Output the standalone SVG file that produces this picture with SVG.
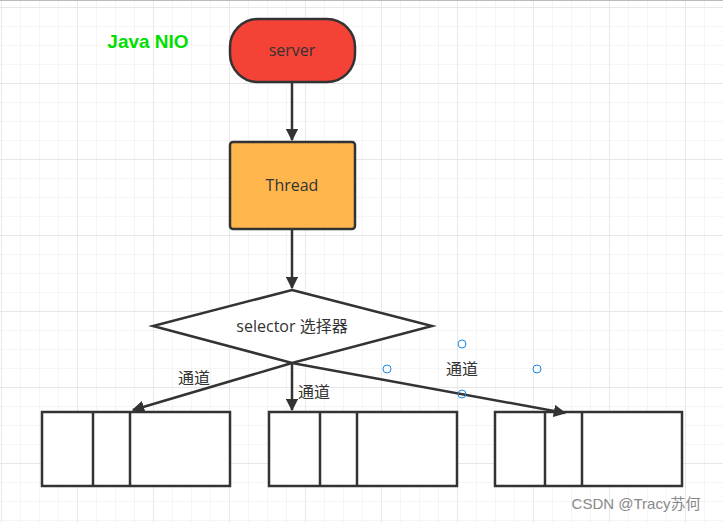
<svg xmlns="http://www.w3.org/2000/svg" width="723" height="523" viewBox="0 0 723 523">
<defs>
<pattern id="g" x="1" y="7" width="19" height="19" patternUnits="userSpaceOnUse"><path d="M0 0H19M0 0V19" stroke="#ececec" stroke-width="1" fill="none"/></pattern>
<pattern id="G" x="1" y="7" width="76" height="76" patternUnits="userSpaceOnUse"><path d="M0 0H76M0 0V76" stroke="#e2e2e2" stroke-width="1.3" fill="none"/></pattern>
<marker id="a" viewBox="0 0 10 10" refX="9" refY="5" markerWidth="5" markerHeight="5" orient="auto"><path d="M0 0L10 5L0 10z" fill="#333"/></marker>
</defs>
<style>
.s{stroke:#333;stroke-width:2.5}
.t{font-family:"Open Sans","Liberation Sans","Noto Sans CJK SC",sans-serif;font-size:16px;fill:#333;text-anchor:middle}
.c{fill:none;stroke:#1e88e5;stroke-width:1}
</style>
<rect width="723" height="523" fill="#fff"/>
<rect width="723" height="523" fill="url(#g)"/>
<rect width="723" height="523" fill="url(#G)"/>
<line x1="0" y1="0.5" x2="723" y2="0.5" stroke="#bbb"/>
<text x="148" y="48" font-family="'Liberation Sans',sans-serif" font-size="19" font-weight="bold" fill="#00e000" text-anchor="middle">Java NIO</text>
<g id="server"><rect x="230" y="19" width="125" height="63" rx="28" fill="#f44336" class="s"/><text class="t" x="292" y="56">server</text></g>
<g id="thread"><rect x="230" y="142" width="125" height="87" rx="3" fill="#ffb74d" class="s"/><text class="t" x="292" y="191">Thread</text></g>
<g id="selector"><polygon points="292,290 432,326 292,363 153,326" fill="#fff" class="s"/><text class="t" x="292" y="332">selector 选择器</text></g>
<g id="b1"><rect x="42" y="412" width="188" height="74" fill="#fff" class="s"/><line x1="93" y1="412" x2="93" y2="486" class="s"/><line x1="130" y1="412" x2="130" y2="486" class="s"/></g>
<g id="b2"><rect x="269" y="412" width="188" height="74" fill="#fff" class="s"/><line x1="320" y1="412" x2="320" y2="486" class="s"/><line x1="357" y1="412" x2="357" y2="486" class="s"/></g>
<g id="b3"><rect x="495" y="412" width="187" height="74" fill="#fff" class="s"/><line x1="545" y1="412" x2="545" y2="486" class="s"/><line x1="582" y1="412" x2="582" y2="486" class="s"/></g>
<g id="connectors" fill="none" class="s" marker-end="url(#a)">
<line x1="292" y1="83" x2="292" y2="140"/>
<line x1="292" y1="230" x2="292" y2="288"/>
<line x1="292" y1="363" x2="133" y2="410"/>
<line x1="292" y1="363" x2="292" y2="410"/>
<line x1="292" y1="363" x2="565" y2="413"/>
</g>
<g id="labels">
<text class="t" x="194" y="384">通道</text>
<text class="t" x="314" y="398">通道</text>
<text class="t" x="462" y="375">通道</text>
</g>
<circle class="c" cx="462" cy="344" r="4"/><circle class="c" cx="387" cy="369" r="4"/><circle class="c" cx="537" cy="369" r="4"/><circle class="c" cx="462" cy="394" r="4"/>
<text x="636" y="509" font-family="'Liberation Sans','Noto Sans CJK SC',sans-serif" font-size="15" fill="#888" text-anchor="middle">CSDN @Tracy苏何</text>
</svg>
